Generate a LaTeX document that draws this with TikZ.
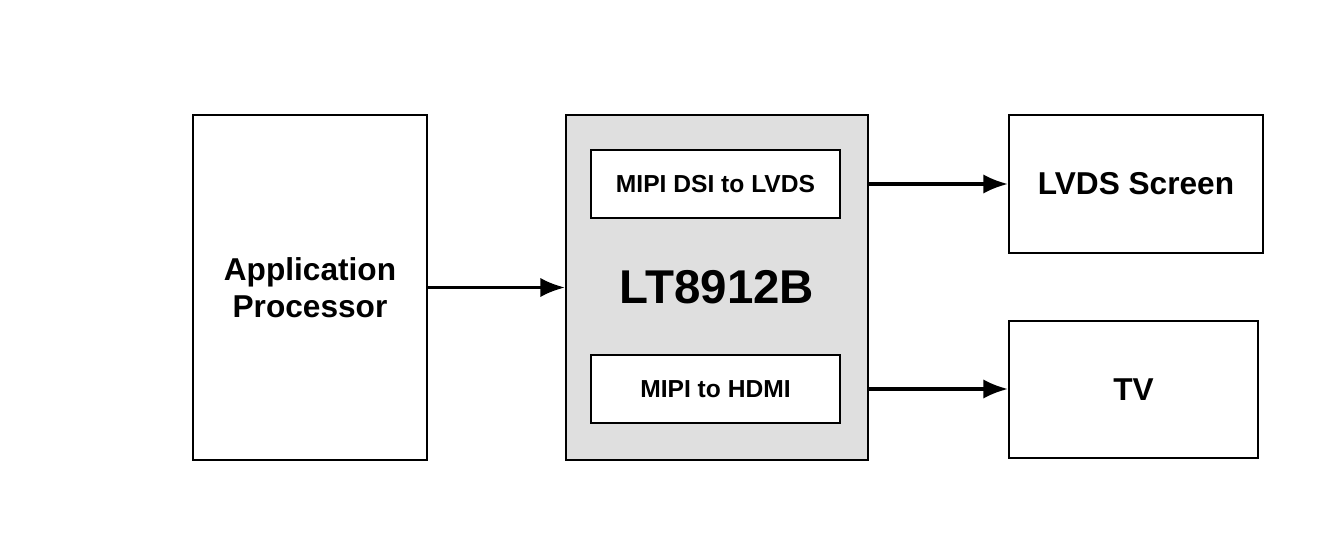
\documentclass[tikz,border=0pt]{standalone}
\usepackage{fontspec}
\setmainfont{Liberation Sans}
\usetikzlibrary{arrows.meta}
\begin{document}
\begin{tikzpicture}[x=0.02cm,y=-0.02cm,
    box/.style={draw,line width=1.2pt,inner sep=0pt,font=\bfseries},
    link/.style={draw,line width=1.8pt,-{Latex[length=14pt,width=11pt]}}]
    \useasboundingbox (0,0) rectangle (1328,560);
    \node [box,minimum width=234*0.02cm,minimum height=345*0.02cm,
        align=center,font=\bfseries\fontsize{18}{21}\selectfont] (ap) at (310,287.5) {Application\\Processor};
    \node [box,fill=gray!25,minimum width=302*0.02cm,minimum height=345*0.02cm,
        font=\bfseries\fontsize{27}{32}\selectfont] (lt) at (717,287.5) {LT8912B};
    \node [box,fill=white,minimum width=249*0.02cm,minimum height=68*0.02cm,
        font=\bfseries\fontsize{14}{16}\selectfont] (dsi) at (715.5,184) {MIPI DSI to LVDS};
    \node [box,fill=white,minimum width=249*0.02cm,minimum height=68*0.02cm,
        font=\bfseries\fontsize{14}{16}\selectfont] (hdmi) at (715.5,389) {MIPI to HDMI};
    \node [box,minimum width=254*0.02cm,minimum height=138*0.02cm,
        font=\bfseries\fontsize{18}{21}\selectfont] (lvds) at (1136,184) {LVDS Screen};
    \node [box,minimum width=249*0.02cm,minimum height=137*0.02cm,
        font=\bfseries\fontsize{18}{21}\selectfont] (tv) at (1133.5,389.5) {TV};

    \draw [link] (ap.east) -- (lt.west);
    \draw [link] (lt.east |- dsi) -- (lvds.west |- dsi);
    \draw [link] (lt.east |- hdmi) -- (tv.west |- hdmi);
\end{tikzpicture}
\end{document}
